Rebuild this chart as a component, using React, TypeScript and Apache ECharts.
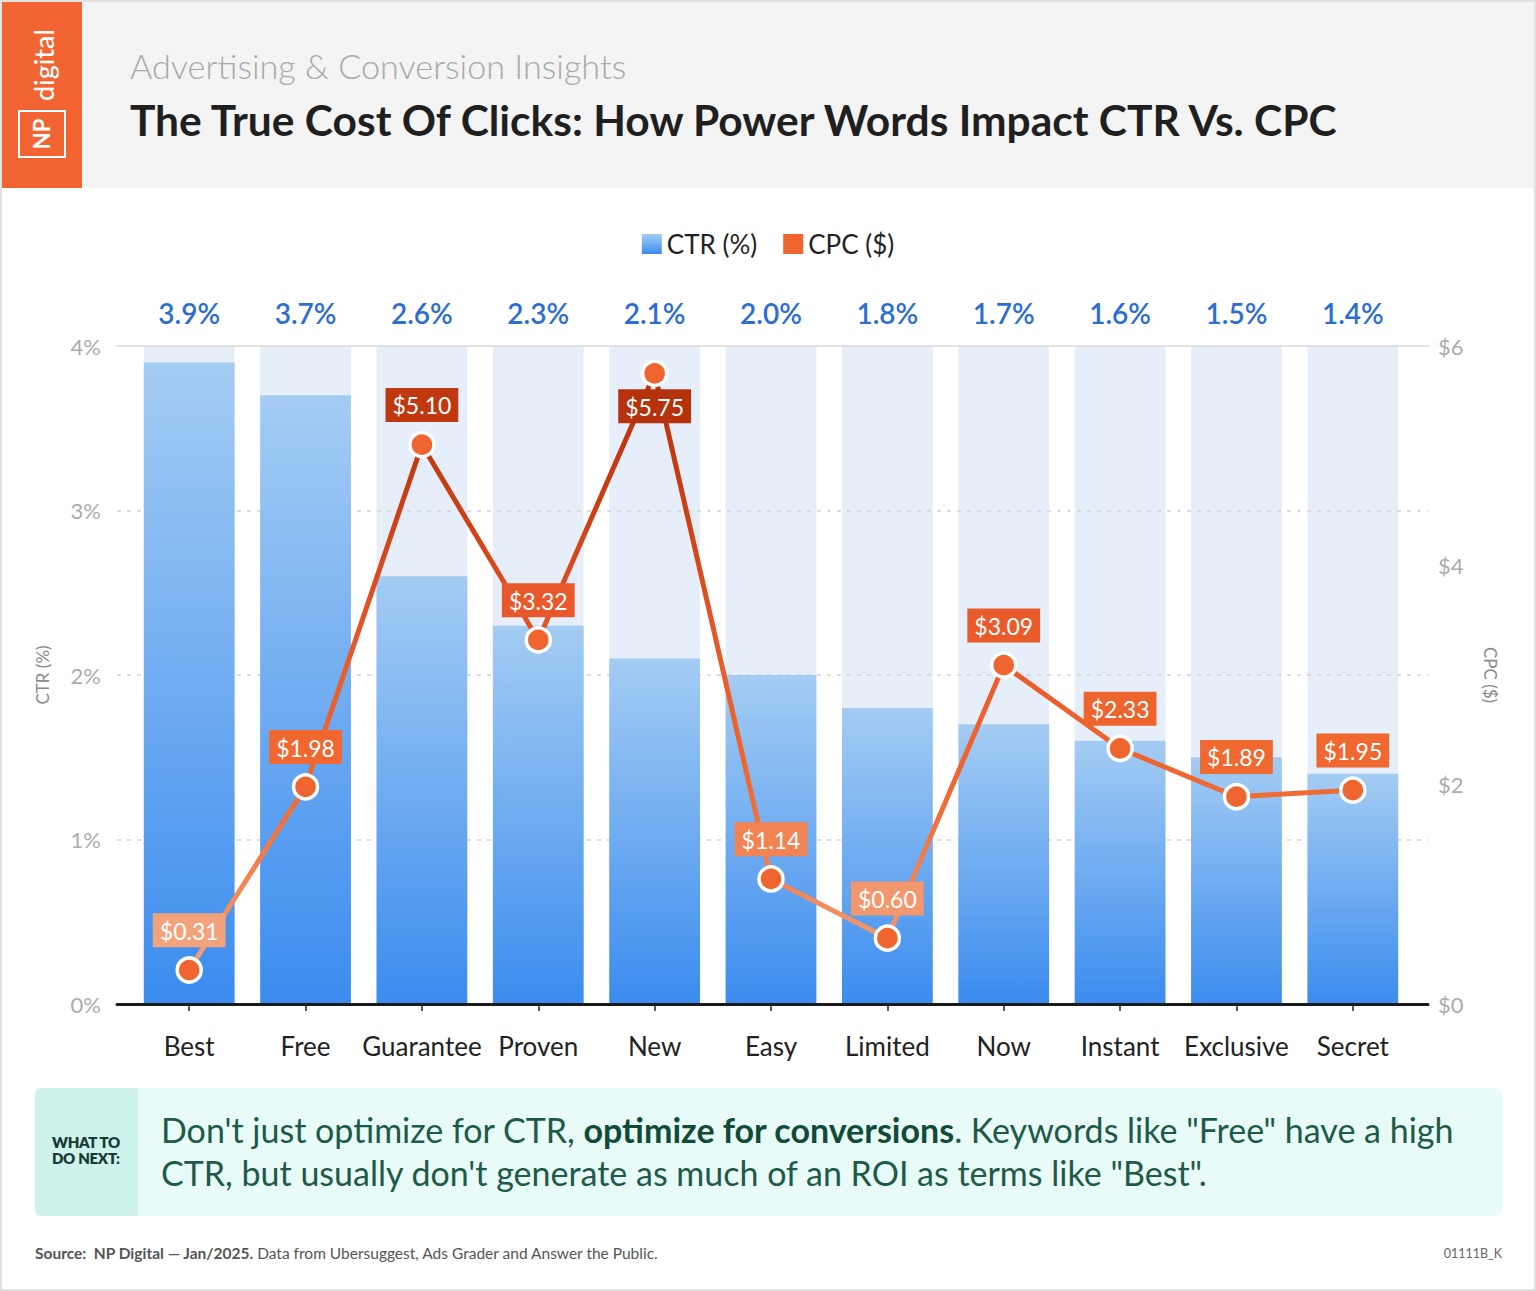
import React, { useEffect, useRef } from "react";
import * as echarts from "echarts";

// Power words and their metrics
const categories = ["Best", "Free", "Guarantee", "Proven", "New", "Easy", "Limited", "Now", "Instant", "Exclusive", "Secret"];
const ctrValues = [3.9, 3.7, 2.6, 2.3, 2.1, 2.0, 1.8, 1.7, 1.6, 1.5, 1.4];
const cpcValues = [0.31, 1.98, 5.1, 3.32, 5.75, 1.14, 0.6, 3.09, 2.33, 1.89, 1.95];

// Axis ranges
const ctrMax = 4;
const ctrStep = 1;
const cpcMax = 6;
const cpcStep = 2;

const FONT = 'Lato, "Noto Sans", "Open Sans", sans-serif';

// CPC colour ramp: light salmon for cheap clicks, deep red for expensive ones
const cpcRamp: [number, string][] = [
  [0, "#f4ae8a"],
  [1.0, "#f2895b"],
  [1.9, "#f06930"],
  [3.3, "#e9582a"],
  [4.6, "#c93d12"],
  [6, "#b12f0b"],
];

function hexToRgb(h: string) {
  const n = parseInt(h.slice(1), 16);
  return [(n >> 16) & 255, (n >> 8) & 255, n & 255];
}

function cpcColor(v: number) {
  for (let i = 1; i < cpcRamp.length; i++) {
    const [v1, c1] = cpcRamp[i];
    const [v0, c0] = cpcRamp[i - 1];
    if (v <= v1 || i === cpcRamp.length - 1) {
      const t = Math.max(0, Math.min(1, (v - v0) / (v1 - v0)));
      const a = hexToRgb(c0);
      const b = hexToRgb(c1);
      const m = a.map((x, k) => Math.round(x + (b[k] - x) * t));
      return `rgb(${m[0]},${m[1]},${m[2]})`;
    }
  }
  return cpcRamp[cpcRamp.length - 1][1];
}

function Chart() {
  const ref = useRef<HTMLDivElement>(null);

  useEffect(() => {
    if (!ref.current) return;
    const chart = echarts.init(ref.current, undefined, { renderer: "svg" });

    const lo = Math.min(...cpcValues);
    const hi = Math.max(...cpcValues);
    const hiIndex = cpcValues.indexOf(hi);
    // vertical gradient for the line, following the colour ramp over the data range
    const lineStops: { offset: number; color: string }[] = [];
    const samples = 12;
    for (let s = 0; s <= samples; s++) {
      const offset = s / samples;
      const v = hi - offset * (hi - lo);
      lineStops.push({ offset, color: cpcColor(v) });
    }

    const barGradient = new echarts.graphic.LinearGradient(0, 0, 0, 1, [
      { offset: 0, color: "#a4ccf3" },
      { offset: 1, color: "#3b8cef" },
    ]);

    chart.setOption({
      animation: false,
      textStyle: { fontFamily: FONT },
      legend: {
        top: 36,
        left: "center",
        itemWidth: 20,
        itemHeight: 20,
        itemGap: 26,
        itemStyle: { borderWidth: 0 },
        textStyle: { fontSize: 26, color: "#222", fontFamily: FONT },
        data: [
          { name: "CTR (%)", icon: "rect" },
          { name: "CPC ($)", icon: "rect" },
        ],
      },
      grid: [
        { left: 131, right: 125, top: 156, height: 658 },
        { left: 117, right: 108, top: 156, height: 658 },
      ],
      xAxis: [
        {
          type: "category",
          gridIndex: 0,
          data: categories,
          axisLine: { show: false },
          axisTick: { show: true, alignWithLabel: true, length: 7, lineStyle: { color: "#222", width: 1.5 } },
          axisLabel: { interval: 0, color: "#222", fontSize: 26, margin: 29, fontFamily: FONT },
          splitLine: { show: false },
          z: 6,
        },
        {
          type: "value",
          gridIndex: 1,
          min: 0,
          max: 1,
          position: "bottom",
          axisLine: { show: true, onZero: false, lineStyle: { color: "#1a1a1a", width: 3 } },
          axisTick: { show: false },
          axisLabel: { show: false },
          splitLine: { show: false },
          z: 6,
        },
        {
          type: "value",
          gridIndex: 1,
          min: 0,
          max: 1,
          position: "top",
          axisLine: { show: true, onZero: false, lineStyle: { color: "#e2e2e2", width: 2 } },
          axisTick: { show: false },
          axisLabel: { show: false },
          splitLine: { show: false },
          z: 2,
        },
      ],
      yAxis: [
        { type: "value", gridIndex: 0, min: 0, max: ctrMax, show: false },
        { type: "value", gridIndex: 0, min: 0, max: cpcMax, show: false },
        {
          type: "value",
          gridIndex: 1,
          min: 0,
          max: ctrMax,
          interval: ctrStep,
          position: "left",
          axisLine: { show: false },
          axisTick: { show: false },
          axisLabel: { formatter: "{value}%", color: "#acacac", fontSize: 22, margin: 16, fontFamily: FONT },
          splitLine: { show: true, lineStyle: { type: [4, 6], color: "#d2d2d2", width: 1.5 } },
          name: "CTR (%)",
          nameLocation: "middle",
          nameGap: 66,
          nameTextStyle: { color: "#8a8a8a", fontSize: 17, fontFamily: FONT },
          z: 2,
        },
        {
          type: "value",
          gridIndex: 1,
          min: 0,
          max: cpcMax,
          interval: cpcStep,
          position: "right",
          axisLine: { show: false },
          axisTick: { show: false },
          axisLabel: { formatter: "${value}", color: "#acacac", fontSize: 22, margin: 10, fontFamily: FONT },
          splitLine: { show: false },
          name: "CPC ($)",
          nameLocation: "middle",
          nameRotate: -90,
          nameGap: 54,
          nameTextStyle: { color: "#8a8a8a", fontSize: 17, fontFamily: FONT },
          z: 2,
        },
      ],
      series: [
        {
          type: "bar",
          xAxisIndex: 0,
          yAxisIndex: 0,
          data: categories.map(() => ctrMax),
          barWidth: "78%",
          barGap: "-100%",
          silent: true,
          itemStyle: { color: "#e5eef9" },
          label: {
            show: true,
            position: "top",
            distance: 19,
            formatter: (p: any) => ctrValues[p.dataIndex].toFixed(1) + "%",
            color: "#2c6dd2",
            fontSize: 28,
            fontWeight: 600,
            fontFamily: FONT,
          },
          z: 1,
        },
        {
          type: "bar",
          name: "CTR (%)",
          xAxisIndex: 0,
          yAxisIndex: 0,
          data: ctrValues,
          barWidth: "78%",
          barGap: "-100%",
          itemStyle: { color: barGradient },
          z: 3,
        },
        {
          type: "line",
          name: "CPC ($)",
          xAxisIndex: 0,
          yAxisIndex: 1,
          data: cpcValues.map((v, i) => ({
            value: v,
            label: {
              backgroundColor: cpcColor(v),
              position: i === hiIndex ? "bottom" : "top",
              distance: i === hiIndex ? 2 : 9,
            },
          })),
          symbol: "circle",
          symbolSize: 24,
          itemStyle: { color: "#f0642f", borderColor: "#ffffff", borderWidth: 3.5 },
          lineStyle: { width: 5, color: new echarts.graphic.LinearGradient(0, 0, 0, 1, lineStops) },
          label: {
            show: true,
            formatter: (p: any) => "$" + Number(p.value).toFixed(2),
            color: "#ffffff",
            fontSize: 23,
            fontFamily: FONT,
            padding: [6, 7, 5, 7],
          },
          z: 5,
        },
      ],
    });

    return () => chart.dispose();
  }, []);

  return <div ref={ref} style={{ position: "absolute", left: 0, top: 190, width: 1536, height: 890 }} />;
}

export default function App() {
  return (
    <div
      style={{
        position: "absolute",
        left: 0,
        top: 0,
        width: 1536,
        height: 1291,
        background: "#ffffff",
        overflow: "hidden",
        fontFamily: FONT,
      }}
    >
      {/* header band */}
      <div style={{ position: "absolute", left: 0, top: 0, width: 1536, height: 188, background: "#f4f4f5" }} />
      <div style={{ position: "absolute", left: 0, top: 0, width: 82, height: 188, background: "#f26532" }} />
      <div
        style={{
          position: "absolute",
          left: 43,
          top: 65,
          transform: "translate(-50%, -50%) rotate(-90deg)",
          color: "#fff",
          fontSize: 27,
          fontWeight: 500,
          whiteSpace: "nowrap",
          lineHeight: 1,
        }}
      >
        digital
      </div>
      <div
        style={{
          position: "absolute",
          left: 18,
          top: 110,
          width: 48,
          height: 48,
          boxSizing: "border-box",
          border: "2.5px solid #fff",
        }}
      />
      <div
        style={{
          position: "absolute",
          left: 42,
          top: 134,
          transform: "translate(-50%, -50%) rotate(-90deg)",
          color: "#fff",
          fontSize: 22,
          fontWeight: 700,
          lineHeight: 1,
          whiteSpace: "nowrap",
        }}
      >
        NP
      </div>
      <div
        style={{
          position: "absolute",
          left: 130,
          top: 46,
          fontSize: 34.2,
          fontWeight: 300,
          color: "#a8a8a8",
          lineHeight: "40px",
          whiteSpace: "nowrap",
        }}
      >
        Advertising &amp; Conversion Insights
      </div>
      <div
        style={{
          position: "absolute",
          left: 130,
          top: 95,
          fontSize: 42.5,
          fontWeight: 700,
          color: "#1f1f1f",
          lineHeight: "50px",
          whiteSpace: "nowrap",
        }}
      >
        The True Cost Of Clicks: How Power Words Impact CTR Vs. CPC
      </div>

      <Chart />

      {/* what to do next */}
      <div
        style={{
          position: "absolute",
          left: 35,
          top: 1088,
          width: 1467,
          height: 128,
          background: "#e8fbf8",
          borderRadius: 6,
        }}
      />
      <div
        style={{
          position: "absolute",
          left: 35,
          top: 1088,
          width: 103,
          height: 128,
          background: "#cdf3ec",
          borderRadius: "6px 0 0 6px",
        }}
      />
      <div
        style={{
          position: "absolute",
          left: 52,
          top: 1134,
          fontSize: 15,
          fontWeight: 800,
          lineHeight: "16px",
          color: "#183a33",
          letterSpacing: -0.3,
        }}
      >
        WHAT TO
        <br />
        DO NEXT:
      </div>
      <div
        style={{
          position: "absolute",
          left: 161,
          top: 1108,
          width: 1335,
          fontSize: 34,
          lineHeight: "43px",
          color: "#1d5a47",
          whiteSpace: "nowrap",
        }}
      >
        Don't just optimize for CTR, <b style={{ fontWeight: 700, color: "#0f4b36" }}>optimize for conversions</b>. Keywords like "Free" have a high
        <br />
        CTR, but usually don't generate as much of an ROI as terms like "Best".
      </div>

      {/* footer */}
      <div
        style={{
          position: "absolute",
          left: 35,
          top: 1244,
          fontSize: 15.5,
          color: "#555",
          whiteSpace: "nowrap",
          lineHeight: "18px",
        }}
      >
        <span style={{ fontWeight: 700 }}>Source:&nbsp; NP Digital — Jan/2025.</span> Data from Ubersuggest, Ads Grader and Answer the Public.
      </div>
      <div
        style={{
          position: "absolute",
          right: 34,
          top: 1246,
          fontSize: 12.5,
          color: "#666",
          whiteSpace: "nowrap",
          lineHeight: "16px",
        }}
      >
        01111B_K
      </div>

      {/* frame */}
      <div
        style={{
          position: "absolute",
          left: 0,
          top: 0,
          width: 1536,
          height: 1291,
          boxSizing: "border-box",
          border: "2px solid #e2e2e2",
          pointerEvents: "none",
        }}
      />
    </div>
  );
}
